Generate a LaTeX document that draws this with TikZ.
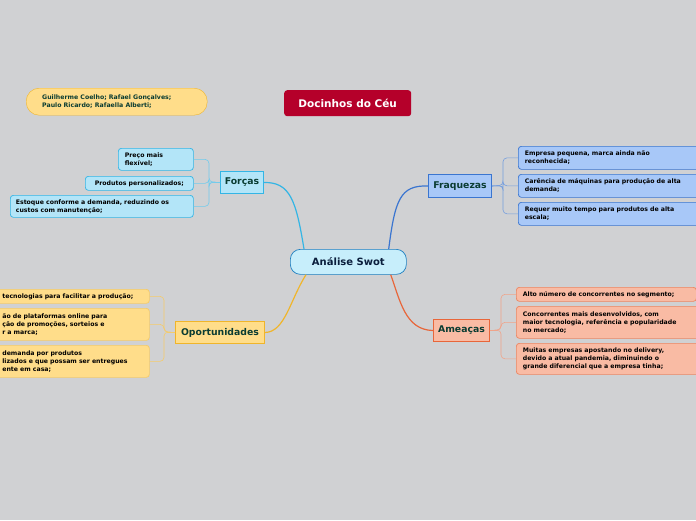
\documentclass[tikz,border=0pt]{standalone}
\usepackage{fontspec}
\setmainfont{DejaVu Sans}
\begin{document}
\begin{tikzpicture}[x=1pt,y=-1pt,
  leaf/.style={draw,rounded corners=3pt,line width=0.7pt,anchor=north west,align=left,inner sep=0pt,font=\bfseries\fontsize{6.2}{7.8}\selectfont,text=black},
  branch/.style={draw,line width=1pt,font=\bfseries\fontsize{9.3}{11}\selectfont,text={rgb,255:red,10;green,60;blue,50},inner sep=0pt,anchor=north west},
  br/.style={line width=0.6pt,rounded corners=4pt}]
\definecolor{bg}{RGB}{208,209,211}
\definecolor{bluF}{RGB}{179,229,248}\definecolor{bluD}{RGB}{51,181,229}
\definecolor{nvF}{RGB}{168,200,248}\definecolor{nvD}{RGB}{58,117,208}
\definecolor{orF}{RGB}{249,187,164}\definecolor{orD}{RGB}{232,102,58}
\definecolor{yeF}{RGB}{255,221,138}\definecolor{yeD}{RGB}{240,181,42}
\fill[bg] (0,0) rectangle (696,520);
\useasboundingbox (0,0) rectangle (696,520);
% title & authors
\node[draw=yeD,fill=yeF,rounded corners=13pt,minimum width=181pt,minimum height=27pt,anchor=north west,inner sep=0pt] (auth) at (26,88) {};
\node[anchor=west,align=left,font=\bfseries\fontsize{6.2}{7.8}\selectfont,text={rgb,255:red,10;green,60;blue,50},inner sep=0pt] (autht) at (42,101.5) {Guilherme Coelho; Rafael Gonçalves;\\Paulo Ricardo; Rafaella Alberti;};
\node[fill={rgb,255:red,181;green,0;blue,42},rounded corners=3pt,minimum width=127pt,minimum height=26pt,anchor=north west,inner sep=0pt,text=white,font=\bfseries\fontsize{10.5}{12}\selectfont] (title) at (284,90) {Docinhos do Céu};
% center
\node[draw={rgb,255:red,30;green,127;blue,192},fill={rgb,255:red,199;green,238;blue,251},rounded corners=10pt,minimum width=116pt,minimum height=25pt,anchor=north west,inner sep=0pt,font=\bfseries\fontsize{10}{12}\selectfont,text={rgb,255:red,10;green,30;blue,60},line width=0.7pt] (c) at (290,249) {Análise Swot};
% branches
\node[branch,draw=bluD,fill=bluF,minimum width=43pt,minimum height=22pt] (fo) at (220,171) {Forças};
\node[branch,draw=nvD,fill=nvF,minimum width=63pt,minimum height=23pt] (fr) at (428,174) {Fraquezas};
\node[branch,draw=orD,fill=orF,minimum width=56pt,minimum height=22pt] (am) at (433,319) {Ameaças};
\node[branch,draw=yeD,fill=yeF,minimum width=89pt,minimum height=22pt] (op) at (175,321) {Oportunidades};
\draw[bluD,line width=1.2pt] (c.north west)++(14,0) .. controls (296,200) and (290,182) .. (fo.east);
\draw[nvD,line width=1.2pt] (c.north east)++(-18,0) .. controls (395,200) and (400,185) .. (fr.west);
\draw[orD,line width=1.2pt] (c.south east)++(-16,0) .. controls (400,300) and (405,330) .. (am.west);
\draw[yeD,line width=1.2pt] (c.south west)++(16,0) .. controls (290,300) and (285,332) .. (op.east);
% Forças leaves
\node[leaf,draw=bluD,fill=bluF,minimum width=75pt,minimum height=22pt,text width=70pt] (f1) at (118,148) {\hspace*{4pt}Preço mais\\\hspace*{4pt}flexível;};
\node[leaf,draw=bluD,fill=bluF,minimum width=108pt,minimum height=14pt,align=center] (f2) at (85,176) {Produtos personalizados;};
\node[leaf,draw=bluD,fill=bluF,minimum width=183pt,minimum height=22pt,text width=180pt] (f3) at (10,195) {\hspace*{4pt}Estoque conforme a demanda, reduzindo os\\\hspace*{4pt}custos com manutenção;};
\foreach \n in {f1,f2,f3}\draw[br,bluD!70] (fo.west) -- (209,182) |- (\n.east);
% Fraquezas leaves
\node[leaf,draw=nvD,fill=nvF,minimum width=190pt,minimum height=23pt,text width=185pt] (r1) at (518,146) {\hspace*{4pt}Empresa pequena, marca ainda não\\\hspace*{4pt}reconhecida;};
\node[leaf,draw=nvD,fill=nvF,minimum width=190pt,minimum height=23pt,text width=185pt] (r2) at (518,174) {\hspace*{4pt}Carência de máquinas para produção de alta\\\hspace*{4pt}demanda;};
\node[leaf,draw=nvD,fill=nvF,minimum width=190pt,minimum height=23pt,text width=185pt] (r3) at (518,202) {\hspace*{4pt}Requer muito tempo para produtos de alta\\\hspace*{4pt}escala;};
\foreach \n in {r1,r2,r3}\draw[br,nvD!70] (fr.east) -- (503,185.5) |- (\n.west);
% Ameaças leaves
\node[leaf,draw=orD!80,fill=orF,minimum width=180pt,minimum height=14pt,text width=175pt] (a1) at (516,287) {\hspace*{4pt}Alto número de concorrentes no segmento;};
\node[leaf,draw=orD!80,fill=orF,minimum width=190pt,minimum height=32pt,text width=185pt] (a2) at (516,306) {\hspace*{4pt}Concorrentes mais desenvolvidos, com\\\hspace*{4pt}maior tecnologia, referência e popularidade\\\hspace*{4pt}no mercado;};
\node[leaf,draw=orD!80,fill=orF,minimum width=190pt,minimum height=31pt,text width=185pt] (a3) at (516,343) {\hspace*{4pt}Muitas empresas apostando no delivery,\\\hspace*{4pt}devido a atual pandemia, diminuindo o\\\hspace*{4pt}grande diferencial que a empresa tinha;};
\foreach \n in {a1,a2,a3}\draw[br,orD!60] (am.east) -- (501,330) |- (\n.west);
% Oportunidades leaves
\node[leaf,draw=yeD!70,fill=yeF,minimum width=159pt,minimum height=14pt,text width=155pt] (o1) at (-10,289) {\hspace*{10pt}tecnologias para facilitar a produção;};
\node[leaf,draw=yeD!70,fill=yeF,minimum width=159pt,minimum height=32pt,text width=155pt] (o2) at (-10,308) {\hspace*{10pt}ão de plataformas online para\\\hspace*{10pt}ção de promoções, sorteios e\\\hspace*{10pt}r a marca;};
\node[leaf,draw=yeD!70,fill=yeF,minimum width=159pt,minimum height=32pt,text width=155pt] (o3) at (-10,345) {\hspace*{10pt}demanda por produtos\\\hspace*{10pt}lizados e que possam ser entregues\\\hspace*{10pt}ente em casa;};
\foreach \n in {o1,o2,o3}\draw[br,yeD!70] (op.west) -- (164,332) |- (\n.east);
\end{tikzpicture}
\end{document}
